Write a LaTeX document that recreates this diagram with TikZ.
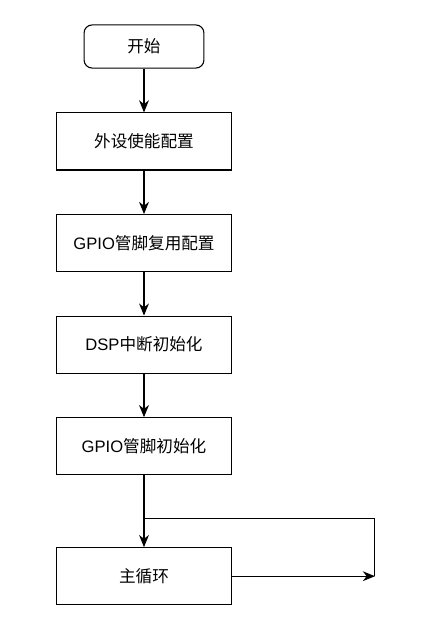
\documentclass[tikz,border=0pt]{standalone}
\usepackage{fontspec}
\setmainfont{Liberation Sans}
\newfontfamily\cjk{Noto Sans CJK SC}
\usetikzlibrary{arrows.meta,positioning}

\begin{document}
\begin{tikzpicture}[node distance=1.16cm, auto, font=\fontsize{12.5}{14}\selectfont]
\tikzset{
    startbox/.style={rectangle,rounded corners=6pt,draw=black, thick, minimum width=3.17cm, minimum height=1.14cm, text centered},
    stepbox/.style={rectangle,draw=black, thick, minimum width=4.62cm, minimum height=1.51cm, text centered},
    myarrow/.style={-{Stealth[length=3.2mm,width=2.6mm,inset=1mm]}, thick}
}
\useasboundingbox (0,0) rectangle (11.246,-16.96);
\node[startbox] at (3.81,-1.23) (start) {\cjk 开始};
\node[stepbox, below=of start] (periph) {\cjk 外设使能配置};
\node[stepbox, below=1.15cm of periph] (gpiomux) {GPIO{\cjk 管脚复用配置}};
\node[stepbox, below=1.15cm of gpiomux] (dspint) {DSP{\cjk 中断初始化}};
\node[stepbox, below=1.15cm of dspint] (gpioinit) {GPIO{\cjk 管脚初始化}};
\node[stepbox, below=1.9cm of gpioinit] (mainloop) {\cjk 主循环};
\coordinate (join) at (gpioinit.south |- 0,-13.71);
\coordinate (corner) at (9.92,-13.71);
\coordinate (back) at (corner |- mainloop.east);

\draw[myarrow] (start) -- (periph);
\draw[myarrow] (periph) -- (gpiomux);
\draw[myarrow] (gpiomux) -- (dspint);
\draw[myarrow] (dspint) -- (gpioinit);
\draw[myarrow] (gpioinit) -- (mainloop);
% loop back from the main loop
\draw[myarrow] (mainloop.east) -- (back);
\draw[thick] (back) -- (corner) -- (join);

\end{tikzpicture}
\end{document}
